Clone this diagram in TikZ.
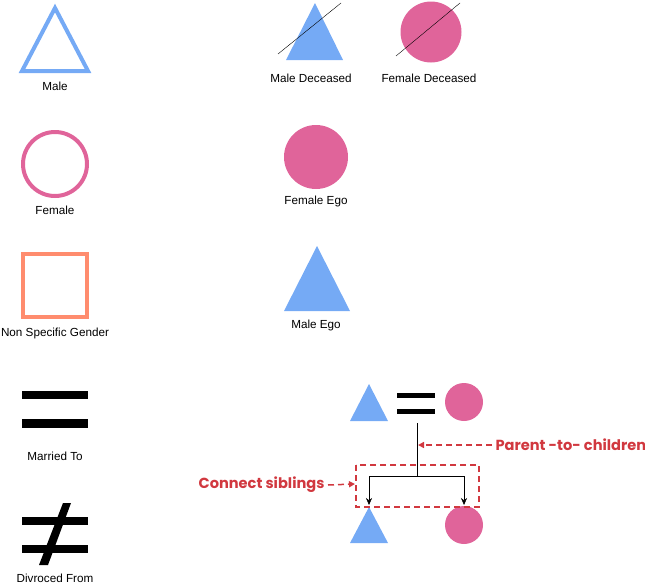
\documentclass[tikz,border=0pt]{standalone}
\usepackage{fontspec}
\setmainfont{Liberation Sans}
\newfontfamily\notefont{Poppins}
\usetikzlibrary{arrows.meta,positioning}
\definecolor{maleblue}{RGB}{117,170,245}
\definecolor{femalepink}{RGB}{224,100,154}
\definecolor{nsgsalmon}{RGB}{255,140,110}
\definecolor{notered}{RGB}{209,56,63}
\tikzset{
  lbl/.style={font=\fontsize{11.7}{13}\selectfont},
  note/.style={font=\notefont\bfseries\fontsize{14.6}{16}\selectfont, text=notered},
  femcirc/.style={shape=circle, fill=femalepink, inner sep=0pt},
  notearrow/.style={notered, line width=1.5pt, dash pattern=on 6pt off 4pt, -{Triangle[length=6pt,width=6pt]}},
}

\begin{document}
\begin{tikzpicture}[x=1pt,y=-1pt]
\useasboundingbox (0,0) rectangle (645,584);

% left column
\draw[maleblue, line width=4pt] (55,8) -- (88,71) -- (22,71) -- cycle;
\node[lbl] (male) at (55,86) {Male};
\node[shape=circle, draw=femalepink, line width=4pt, minimum size=64pt, inner sep=0pt] (fem) at (55,164) {};
\node[lbl] (female) at (55,210) {Female};
\draw[nsgsalmon, line width=4pt] (23,254) rectangle (87,317);
\node[lbl] (nsg) at (55,333) {Non Specific Gender};
\fill (22,391) rectangle (88,399);
\fill (22,419) rectangle (88,428);
\node[lbl] (married) at (55,456) {Married To};
\fill (22,517) rectangle (88,525);
\fill (22,545) rectangle (88,553);
\fill (63,503) -- (71,503) -- (48,565) -- (39,565) -- cycle;
\node[lbl] (divorced) at (55,578) {Divroced From};

% middle column
\fill[maleblue] (315,3) -- (343,60) -- (286,60) -- cycle;
\draw (278,54) -- (341,3);
\node[lbl] (maledec) at (311,78) {Male Deceased};
\node[femcirc, minimum size=61pt] (femdec) at (431,32) {};
\draw (396,56) -- (460,3);
\node[lbl] (femaledec) at (429,78) {Female Deceased};
\node[femcirc, minimum size=64pt] (fego) at (316,157) {};
\node[lbl] (femaleego) at (316,201) {Female Ego};
\fill[maleblue] (317,246) -- (350,311) -- (284,311) -- cycle;
\node[lbl] (maleego) at (316,325) {Male Ego};

% family example
\fill[maleblue] (369,384) -- (388,421) -- (350,421) -- cycle;
\fill (397,393) rectangle (435,398);
\fill (397,409) rectangle (435,414);
\node[femcirc, minimum size=38pt] (mom) at (464,402) {};
\fill[maleblue] (369,507) -- (388,543) -- (350,543) -- cycle;
\node[femcirc, minimum size=38pt] (girl) at (464,525) {};

\coordinate (cpl) at (417,423);
\coordinate (fork) at (417,476);
\coordinate (son) at (369,505);
\coordinate (dau) at (464,505);
\draw (cpl) -- (fork);
\draw[-{Stealth[length=7pt,width=6pt]}] (fork) -| (son);
\draw[-{Stealth[length=7pt,width=6pt]}] (fork) -| (dau);

\draw[notered, line width=1.5pt, dash pattern=on 6pt off 4pt] (356,465) rectangle (479,507);
\node[note, anchor=west] (ptc) at (492,445) {Parent -to- children};
\coordinate (ptcend) at (418,445);
\draw[notearrow] (ptc.west) -- (ptcend);
\node[note, anchor=east] (sib) at (328,485) {Connect siblings};
\coordinate (sibend) at (355,484);
\draw[notearrow] (sib.east) -- (sibend);
\end{tikzpicture}
\end{document}
